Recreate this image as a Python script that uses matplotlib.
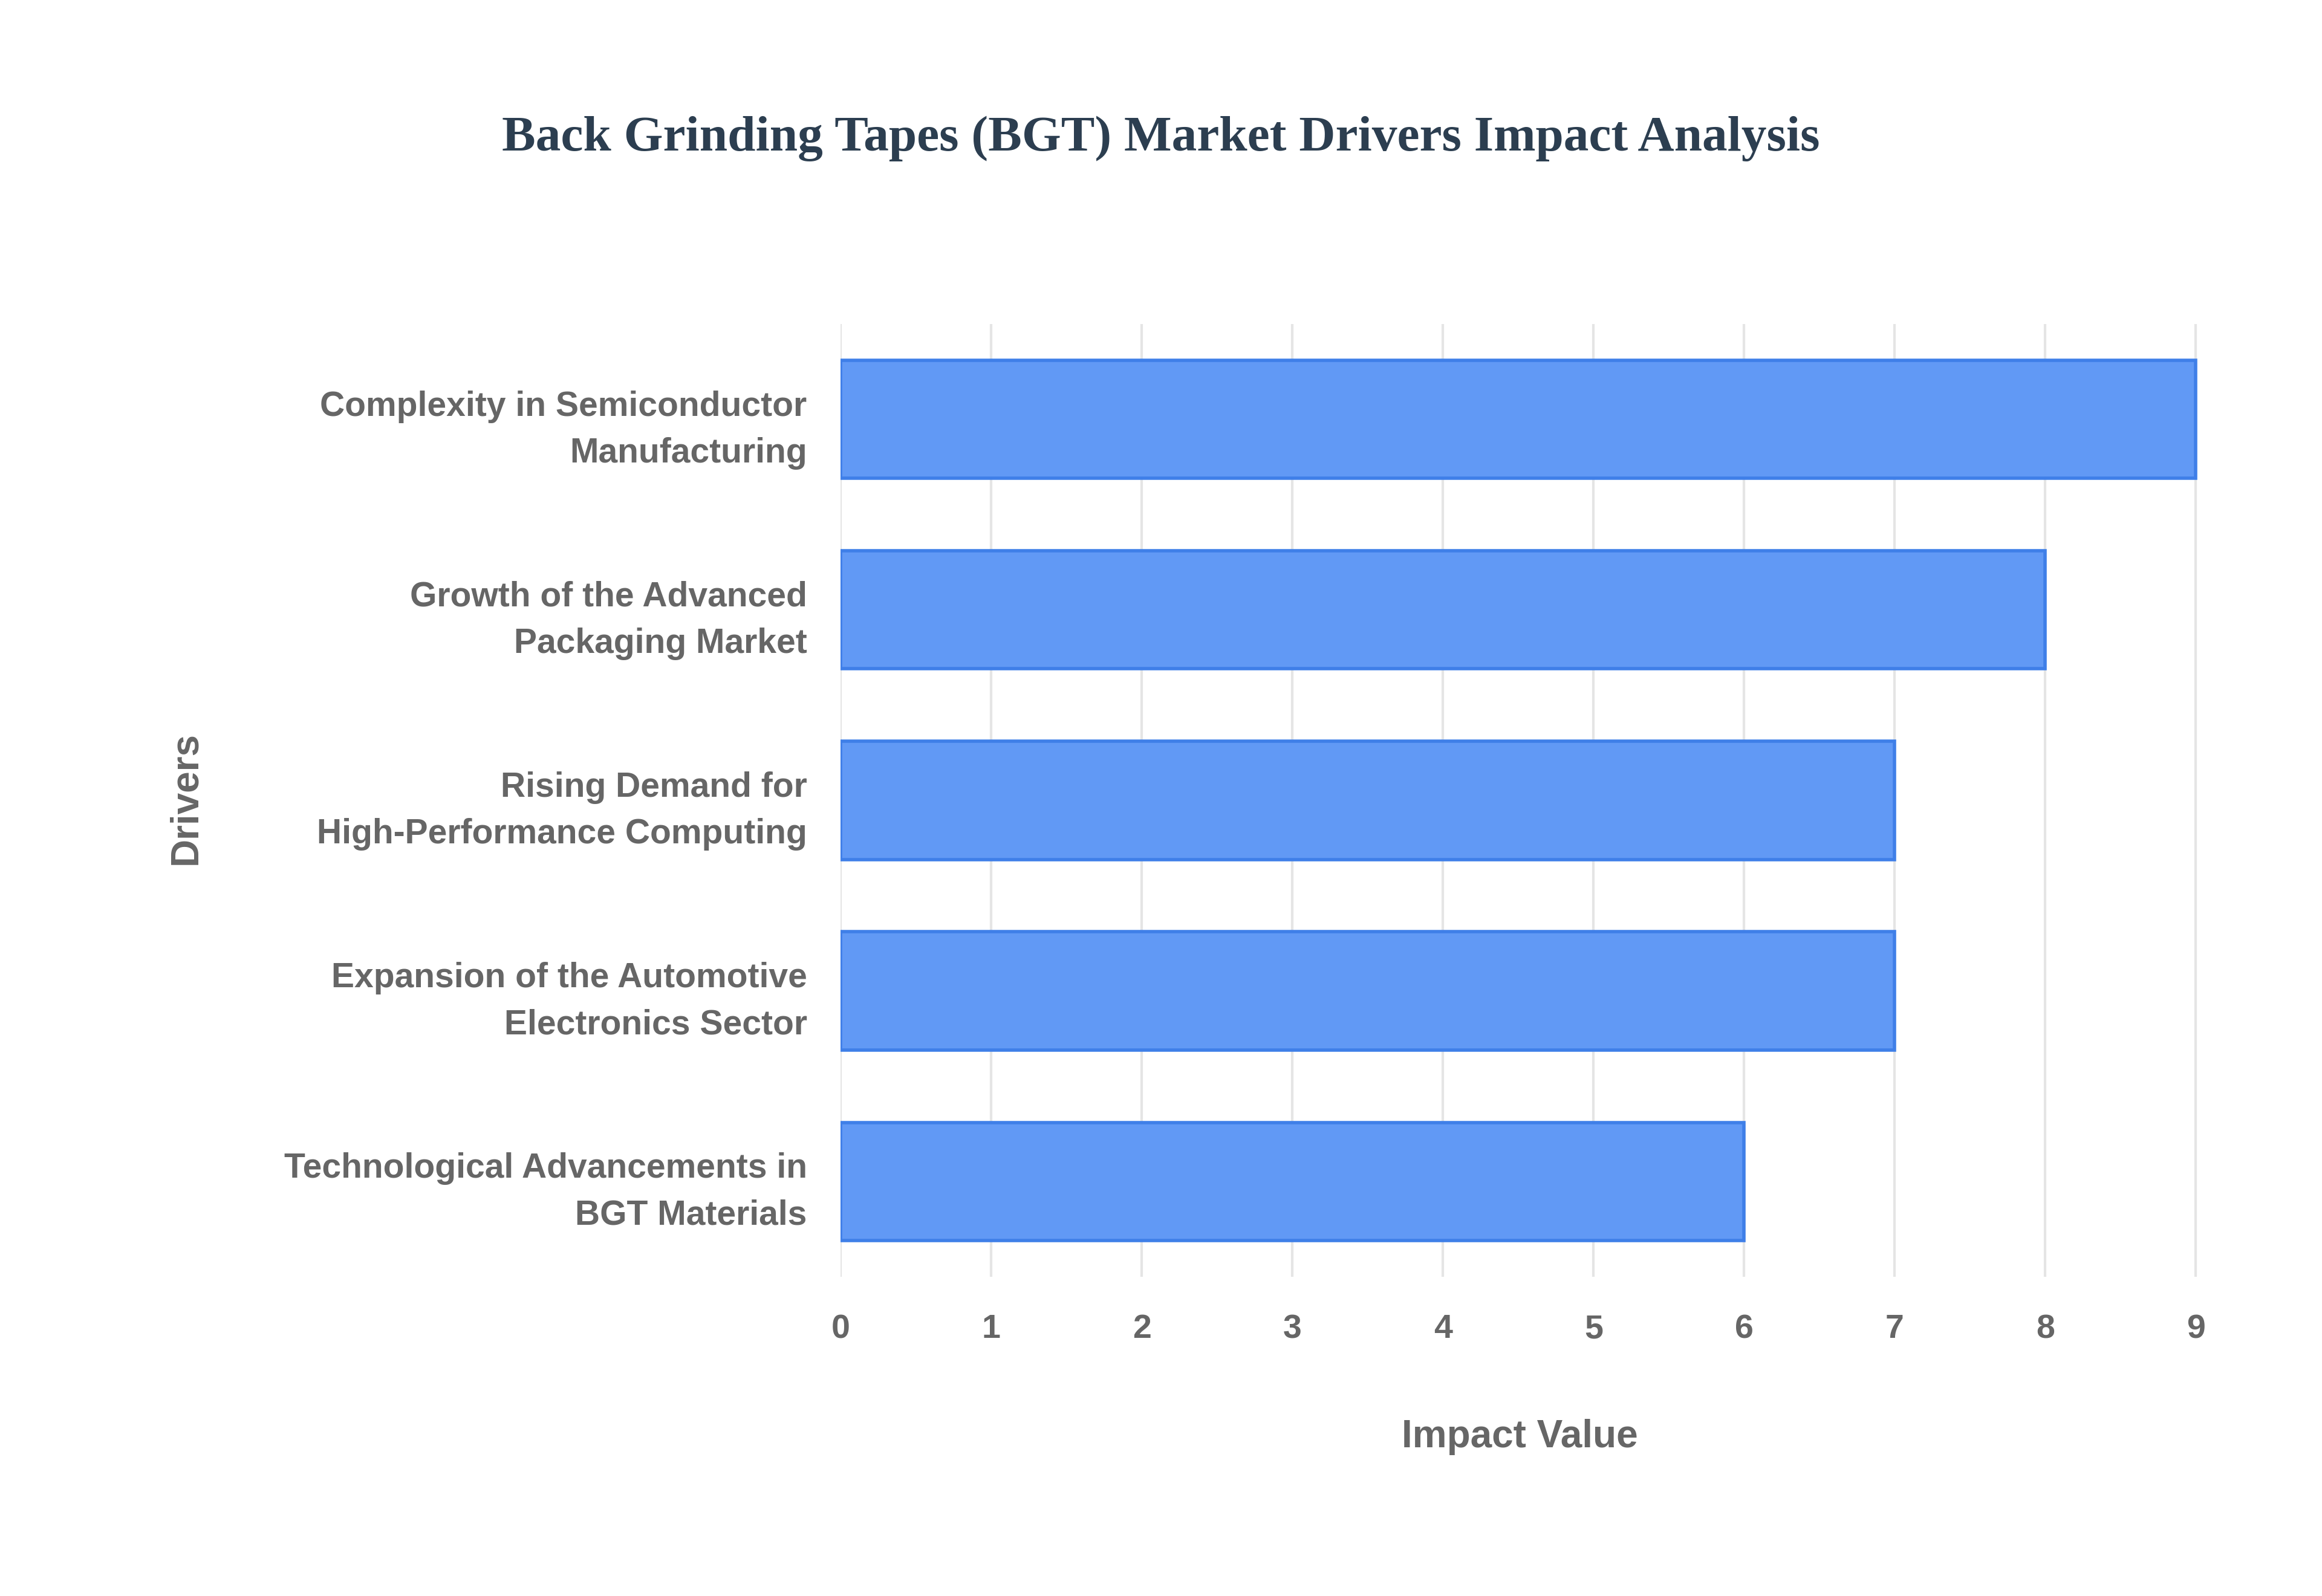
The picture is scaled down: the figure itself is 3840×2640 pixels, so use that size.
import matplotlib
matplotlib.use("Agg")
import matplotlib.pyplot as plt

drivers = ["Complexity in Semiconductor\nManufacturing",
           "Growth of the Advanced\nPackaging Market",
           "Rising Demand for\nHigh-Performance Computing",
           "Expansion of the Automotive\nElectronics Sector",
           "Technological Advancements in\nBGT Materials"]
values = [9, 8, 7, 7, 6]
ticks = list(range(0, 10))

fig = plt.figure(figsize=(19.2, 13.2), dpi=200)
ax = fig.add_axes([0.362, 0.200, 0.585, 0.597])
ypos = list(range(len(drivers)))
ax.barh(ypos, values, height=0.62, color="#6199F5", edgecolor="#3F7FE8",
        linewidth=2, zorder=3)
ax.set_ylim(len(drivers) - 0.5, -0.5)
ax.set_xlim(0, 9.02)
ax.set_yticks(ypos)
ax.set_yticklabels(drivers, fontsize=20.5, fontweight="bold", color="#666666",
                   family="Liberation Sans", linespacing=1.55)
ax.set_xticks(ticks)
ax.set_xticklabels([str(t) for t in ticks], fontsize=20, fontweight="bold",
                   color="#666666", family="Liberation Sans")
ax.tick_params(axis="both", length=0)
ax.tick_params(axis="x", pad=22)
ax.tick_params(axis="y", pad=20)
ax.grid(axis="x", color="#e5e5e5", linewidth=1.5, zorder=0)
for s in ax.spines.values():
    s.set_visible(False)
ax.set_xlabel("Impact Value", fontsize=23, fontweight="bold", color="#666666",
              family="Liberation Sans", labelpad=44)
fig.text(0.08, 0.5, "Drivers", rotation=90, fontsize=23, fontweight="bold",
         color="#666666", family="Liberation Sans", ha="center", va="center")
fig.text(0.5, 0.913, "Back Grinding Tapes (BGT) Market Drivers Impact Analysis",
         fontsize=30, fontweight="bold", color="#2c3e50",
         family="Liberation Serif", ha="center", va="center")
fig.savefig("out.png", dpi=200)
